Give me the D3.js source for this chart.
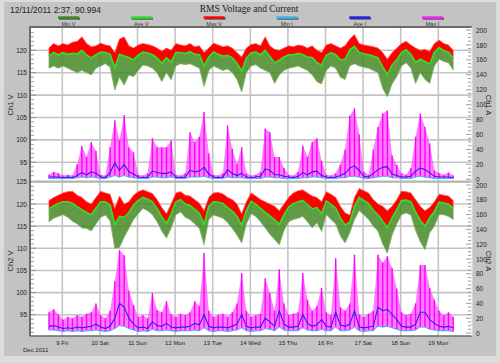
<!DOCTYPE html>
<html>
<head>
<meta charset="utf-8">
<script src="https://cdn.jsdelivr.net/npm/d3@7"></script>
<style>
  body { margin: 0; background: #d9d9d9; }
  svg text { font-family: "Liberation Sans", Arial, sans-serif; }
</style>
</head>
<body>
<svg id="chart" width="500" height="363"></svg>
<script>
// samples every 3 hours, from Dec 8 2011 15:30
const sampleStart = new Date(2011, 11, 8, 15, 30);
const sampleStepHours = 3;

// Ch1 voltage (V)
const ch1MaxV = [120.5,121.5,121.0,121.5,121.2,121.8,122.0,123.0,121.5,120.8,
  121.0,121.6,121.2,121.0,119.5,122.5,123.0,121.0,120.5,121.2,
  121.5,121.3,121.0,120.5,119.8,120.5,120.0,121.5,121.2,121.0,
  121.5,120.8,121.0,119.5,120.5,121.6,121.2,120.8,121.0,120.5,
  119.5,118.5,120.5,121.3,121.5,121.0,123.0,121.0,120.2,120.0,
  120.5,121.0,120.8,121.2,121.0,120.5,121.0,120.0,119.5,121.2,
  121.5,121.0,120.5,121.0,122.5,123.5,121.5,121.2,121.0,120.8,
  120.5,119.5,118.0,119.5,120.5,121.5,122.0,121.2,120.5,120.0,
  120.2,119.8,121.5,122.3,121.5,121.2,120.0];
const ch1AveV = [118.7,119.5,119.0,119.5,119.1,119.3,119.2,120.0,118.9,118.3,
  119.0,119.6,119.5,119.1,116.1,119.1,118.7,118.4,117.9,118.9,
  119.6,119.4,119.0,118.3,117.1,118.3,117.4,119.5,119.5,119.3,
  119.7,119.1,119.0,116.5,118.5,119.6,119.1,118.7,118.9,118.3,
  117.1,115.4,118.3,119.4,119.6,119.0,120.0,118.6,117.2,117.8,
  118.5,119.0,119.0,119.3,119.0,118.5,118.4,117.2,116.7,118.9,
  119.5,119.0,117.9,118.0,120.1,120.9,119.5,119.2,119.0,118.7,
  118.3,116.3,114.6,116.7,117.9,119.5,120.1,119.1,117.3,118.0,
  117.5,116.9,119.5,120.6,119.9,119.6,118.2];
const ch1MinV = [116.0,116.5,116.0,116.5,116.0,115.5,115.0,115.5,115.0,114.5,
  116.0,116.5,117.0,116.2,111.1,114.0,112.2,114.5,114.1,115.5,
  116.7,116.5,116.0,115.0,113.0,115.0,113.4,116.5,117.0,116.8,
  117.0,116.5,116.0,111.9,115.5,116.5,116.0,115.5,115.8,115.0,
  113.5,110.7,115.0,116.5,116.8,116.0,115.5,115.0,112.6,114.5,
  115.5,116.0,116.2,116.5,116.0,115.5,114.5,113.0,112.5,115.5,
  116.5,116.0,114.0,113.5,116.5,117.0,116.5,116.2,116.0,115.5,
  115.0,111.5,109.6,112.5,114.1,116.5,117.2,116.0,112.6,115.0,
  113.5,112.6,116.5,118.0,117.5,117.2,115.6];

// Ch1 current (A)
const ch1MaxI = [6,10,8,5,6,5,20,45,30,50,
  38,6,5,43,79,52,86,43,36,6,
  5,8,55,43,43,43,52,6,5,8,
  63,50,57,90,35,6,5,8,72,41,
  20,43,8,5,6,10,68,63,30,30,
  15,6,5,10,45,30,50,55,25,6,
  5,8,20,40,85,95,60,10,6,40,
  70,88,92,32,19,8,6,15,57,88,
  70,48,12,8,6,9,5];
const ch1AveI = [3,3,3,2,3,2,5,9,6,10,
  8,3,2,9,22,12,20,10,7,3,
  2,3,11,9,8,8,10,3,2,3,
  12,10,11,16,7,3,2,3,13,8,
  5,8,3,2,3,4,14,12,6,6,
  4,3,2,4,9,6,10,11,5,3,
  2,3,5,8,15,18,12,4,3,8,
  13,16,17,7,5,3,3,4,11,15,
  13,9,4,3,3,3,2];
const ch1MinI = [1,1,1,1,1,1,2,3,2,3,
  2,1,1,3,5,3,5,3,2,1,
  1,1,3,3,2,2,3,1,1,1,
  3,3,3,4,2,1,1,1,3,2,
  2,2,1,1,1,1,3,3,2,2,
  1,1,1,1,2,2,3,3,2,1,
  1,1,2,2,4,4,3,1,1,2,
  3,4,4,2,2,1,1,1,3,4,
  3,2,1,1,1,1,1];

// Ch2 voltage (V)
const ch2MaxV = [120.8,121.5,122.0,122.5,122.8,122.9,122.0,121.5,120.5,120.0,
  121.5,122.9,122.5,122.2,119.0,121.8,120.0,120.5,122.0,122.8,
  123.2,122.8,122.4,121.0,119.2,117.8,120.0,122.5,122.8,122.0,
  121.8,121.0,120.2,118.5,121.5,122.5,122.6,122.3,121.5,121.0,
  120.0,117.8,120.5,122.5,121.8,121.0,120.5,120.0,119.5,118.5,
  120.0,121.5,122.5,123.0,123.2,122.5,121.8,121.5,120.5,122.8,
  122.2,121.5,119.5,118.0,117.5,121.5,123.5,123.0,122.5,121.0,
  120.0,119.5,118.5,119.5,121.0,122.9,122.8,122.5,121.0,119.5,
  118.5,119.2,120.5,122.2,122.0,121.8,120.8];
const ch2AveV = [118.9,119.6,120.1,120.5,120.5,120.2,119.4,118.7,118.1,117.6,
  119.1,120.5,120.5,119.8,115.4,117.2,117.0,118.1,119.8,120.8,
  121.5,121.1,120.5,119.0,117.1,115.6,117.8,120.5,121.0,120.0,
  119.7,118.8,117.9,115.4,119.5,120.5,120.4,120.1,119.2,118.4,
  117.2,115.2,118.5,120.6,120.0,119.0,118.1,117.3,116.5,115.4,
  117.6,119.3,120.1,120.5,120.8,119.9,118.9,119.2,117.8,120.7,
  119.9,119.1,116.8,115.3,115.9,119.5,121.5,120.8,120.1,118.6,
  117.6,116.1,114.7,116.9,118.8,120.8,120.9,120.5,118.2,116.3,
  115.0,116.9,118.3,120.4,120.2,120.0,119.1];
const ch2MinV = [116.0,116.8,117.2,117.6,117.0,116.1,115.5,114.6,114.5,113.9,
  115.5,117.0,117.5,116.2,110.0,110.2,112.5,114.5,116.5,117.8,
  119.0,118.5,117.6,116.0,113.9,112.3,114.6,117.6,118.2,117.0,
  116.5,115.5,114.5,110.8,116.5,117.5,117.2,116.8,115.8,114.5,
  113.0,111.2,115.5,117.8,117.2,116.0,114.6,113.2,112.0,110.8,
  114.0,116.0,116.5,116.8,117.2,116.0,114.6,115.8,113.8,117.6,
  116.5,115.5,112.8,111.2,113.5,116.5,118.5,117.6,116.5,115.0,
  113.9,111.0,108.9,113.0,115.5,117.6,118.0,117.5,114.0,111.5,
  109.7,113.5,115.0,117.6,117.6,117.2,116.5];

// Ch2 current (A)
const ch2MaxI = [28,32,25,18,22,20,24,22,26,28,
  40,24,20,30,70,112,105,57,38,22,
  24,20,54,31,28,43,25,22,26,24,
  28,43,36,108,30,22,24,26,22,28,
  40,81,30,22,24,26,74,54,30,86,
  40,24,26,28,81,45,30,36,61,28,
  24,101,35,30,40,106,25,22,26,30,
  106,95,104,88,60,28,24,26,40,92,
  92,61,45,30,24,28,22];
const ch2AveI = [9,10,8,6,7,6,8,7,8,9,
  12,8,6,9,20,40,35,20,12,7,
  8,6,15,10,9,13,8,7,8,8,
  9,13,11,25,9,7,8,8,7,9,
  12,25,9,7,8,8,20,15,9,30,
  12,8,8,9,25,13,9,11,18,9,
  8,28,11,9,12,30,8,7,8,9,
  35,30,32,25,18,9,8,8,12,28,
  28,18,13,9,8,9,7];
const ch2MinI = [4,4,3,2,3,2,3,2,3,3,
  4,3,2,3,6,10,9,6,4,2,
  3,2,5,3,3,4,3,2,3,3,
  3,4,3,7,3,2,3,3,2,3,
  4,7,3,2,3,3,6,5,3,8,
  4,3,3,3,7,4,3,3,5,3,
  3,8,3,3,4,8,3,2,3,3,
  9,8,9,7,5,3,3,3,4,8,
  8,5,4,3,3,3,2];

const legendNames = ["Min V", "Ave V", "Max V", "Min I", "Ave I", "Max I"];
const legendColors = ["#3f8a22", "#22e822", "#ff0000", "#3cb4ee", "#2222ee", "#ff22ff"];
const voltTicks1 = [95, 100, 105, 110, 115, 120];
const voltTicks2 = [95, 100, 105, 110, 115, 120, 125];
const ampTicks = [0, 20, 40, 60, 80, 100, 120, 140, 160, 180, 200];

const svg = d3.select("#chart");
const plot = { left: 30, right: 472, top: 27, bottom: 336 };

const x = d3.scaleTime()
  .domain([new Date(2011, 11, 9), new Date(2011, 11, 19)])
  .range([62.3, 438.3]);

const times = ch1MaxV.map((v, i) => d3.timeHour.offset(sampleStart, i * sampleStepHours));
const days = d3.timeDay.range(new Date(2011, 11, 9), new Date(2011, 11, 20));

const panels = [
  {
    name: "Ch1", maxV: ch1MaxV, aveV: ch1AveV, minV: ch1MinV,
    maxI: ch1MaxI, aveI: ch1AveI, minI: ch1MinI,
    vDomain: [91.2, 125], vRange: [179.3, 27.9], aRange: [179.3, 30],
    vTicks: voltTicks1, titleY: 105
  },
  {
    name: "Ch2", maxV: ch2MaxV, aveV: ch2AveV, minV: ch2MinV,
    maxI: ch2MaxI, aveI: ch2AveI, minI: ch2MinI,
    vDomain: [90.87, 125], vRange: [333, 181.9], aRange: [333, 185],
    vTicks: voltTicks2, titleY: 261
  }
];

// background frame
svg.append("rect").attr("width", 500).attr("height", 363).attr("fill", "#dcdcdc");
svg.append("rect").attr("x", 4).attr("y", 2).attr("width", 492).attr("height", 354)
  .attr("fill", "#c3c3c3");
svg.append("rect")
  .attr("x", plot.left).attr("y", plot.top)
  .attr("width", plot.right - plot.left).attr("height", plot.bottom - plot.top)
  .attr("fill", "#ffffff");

// header
svg.append("text").attr("x", 10).attr("y", 13)
  .attr("font-size", 8.5).attr("fill", "#222")
  .text("12/11/2011 2:37, 90.994");
svg.append("text").attr("x", 249).attr("y", 11.5)
  .attr("text-anchor", "middle")
  .style("font-family", "'Liberation Serif', 'Times New Roman', serif")
  .attr("font-size", 9.5).attr("fill", "#222")
  .text("RMS Voltage and Current");

const legend = svg.append("g").selectAll("g")
  .data(legendNames)
  .enter()
  .append("g")
  .attr("transform", (d, i) => `translate(${58 + i * 72.8},0)`);
legend.append("rect").attr("x", 1).attr("y", 17.5).attr("width", 21).attr("height", 2.2)
  .attr("fill", "#555");
legend.append("rect").attr("x", 0).attr("y", 16.3).attr("width", 21).attr("height", 2.4)
  .attr("fill", (d, i) => legendColors[i]);
legend.append("text").attr("x", 10.5).attr("y", 25.5)
  .attr("text-anchor", "middle").attr("font-size", 5.5).attr("fill", "#333")
  .text((d) => d);

// vertical day gridlines across both panels
svg.append("g").selectAll("line")
  .data(days)
  .enter()
  .append("line")
  .attr("x1", (d) => x(d)).attr("x2", (d) => x(d))
  .attr("y1", plot.top).attr("y2", plot.bottom)
  .attr("stroke", "#c4c4c4").attr("stroke-width", 1.6);

panels.forEach((p) => {
  const yV = d3.scaleLinear().domain(p.vDomain).range(p.vRange);
  const yA = d3.scaleLinear().domain([0, 200]).range(p.aRange);
  const rows = times.map((t, i) => ({
    t, maxV: p.maxV[i], aveV: p.aveV[i], minV: p.minV[i],
    maxI: p.maxI[i], aveI: p.aveI[i], minI: p.minI[i]
  }));
  const g = svg.append("g").attr("class", p.name);

  // horizontal gridlines
  g.selectAll(".hgrid")
    .data(p.vTicks)
    .enter()
    .append("line")
    .attr("x1", plot.left).attr("x2", plot.right)
    .attr("y1", (d) => yV(d)).attr("y2", (d) => yV(d))
    .attr("stroke", "#c4c4c4").attr("stroke-width", 1.6);

  // voltage: min band, max band, ave line on top
  g.append("path").datum(rows)
    .attr("d", d3.area().x((d) => x(d.t)).y0((d) => yV(d.aveV)).y1((d) => yV(d.minV)))
    .attr("fill", "#458a27").attr("fill-opacity", 0.85)
    .attr("stroke", "#86b46a").attr("stroke-width", 0.8);
  g.append("path").datum(rows)
    .attr("d", d3.area().x((d) => x(d.t)).y0((d) => yV(d.aveV)).y1((d) => yV(d.maxV)))
    .attr("fill", "#ff0000").attr("stroke", "#ff5a5a").attr("stroke-width", 0.8);
  g.append("path").datum(rows)
    .attr("d", d3.line().x((d) => x(d.t)).y((d) => yV(d.aveV)))
    .attr("fill", "none").attr("stroke", "#22e822").attr("stroke-width", 1.6);

  // current: band plus needles for max, lines for ave and min
  g.append("path").datum(rows)
    .attr("d", d3.area().x((d) => x(d.t)).y0((d) => yA(d.minI)).y1((d) => yA(d.maxI)))
    .attr("fill", "#ff44ff").attr("fill-opacity", 0.7);
  g.selectAll(".maxi")
    .data(rows)
    .enter()
    .append("line")
    .attr("x1", (d) => x(d.t)).attr("x2", (d) => x(d.t))
    .attr("y1", (d) => yA(d.minI)).attr("y2", (d) => yA(d.maxI))
    .attr("stroke", "#ff00ff").attr("stroke-width", 1.4);
  g.append("path").datum(rows)
    .attr("d", d3.line().x((d) => x(d.t)).y((d) => yA(d.aveI)))
    .attr("fill", "none").attr("stroke", "#2222ee").attr("stroke-width", 1.1);
  g.append("path").datum(rows)
    .attr("d", d3.line().x((d) => x(d.t)).y((d) => yA(d.minI)))
    .attr("fill", "none").attr("stroke", "#3cb4ee").attr("stroke-width", 1);

  // left axis labels and inner ticks
  const left = g.append("g")
    .attr("transform", `translate(${plot.left},0)`)
    .call(d3.axisLeft(yV).tickValues(p.vTicks).tickSize(0).tickPadding(3).tickFormat(d3.format("d")));
  left.select(".domain").remove();
  left.selectAll("text").attr("font-size", 6.5).attr("fill", "#222")
    .style("font-family", "'Liberation Sans', Arial, sans-serif");

  g.selectAll(".vtick")
    .data(d3.range(Math.ceil(p.vDomain[0]), p.vDomain[1]))
    .enter()
    .append("line")
    .attr("x1", plot.left + 1).attr("x2", (d) => plot.left + (d % 5 === 0 ? 6 : 4))
    .attr("y1", (d) => yV(d)).attr("y2", (d) => yV(d))
    .attr("stroke", "#888").attr("stroke-width", 0.8);

  // right axis labels and inner ticks
  const right = g.append("g")
    .attr("transform", `translate(${plot.right},0)`)
    .call(d3.axisRight(yA).tickValues(ampTicks).tickSize(0).tickPadding(4));
  right.select(".domain").remove();
  right.selectAll("text").attr("font-size", 6.5).attr("fill", "#222")
    .style("font-family", "'Liberation Sans', Arial, sans-serif");

  g.selectAll(".atick")
    .data(d3.range(0, 201, 5))
    .enter()
    .append("line")
    .attr("x1", plot.right - 1).attr("x2", (d) => plot.right - (d % 20 === 0 ? 6 : 4))
    .attr("y1", (d) => yA(d)).attr("y2", (d) => yA(d))
    .attr("stroke", "#888").attr("stroke-width", 0.8);

  // axis titles
  g.append("text")
    .attr("transform", `translate(13,${p.titleY}) rotate(-90)`)
    .attr("text-anchor", "middle").attr("font-size", 7.5).attr("fill", "#222")
    .text(`${p.name} V`);
  g.append("text")
    .attr("transform", `translate(486,${p.titleY}) rotate(90)`)
    .attr("text-anchor", "middle").attr("font-size", 7.5).attr("fill", "#222")
    .text(`${p.name} A`);
});

// panel divider and plot border
svg.append("line").attr("x1", plot.left).attr("x2", plot.right)
  .attr("y1", 181.5).attr("y2", 181.5)
  .attr("stroke", "#b4b4b4").attr("stroke-width", 1.8);
svg.append("path")
  .attr("d", `M${plot.left},${plot.bottom}V${plot.top}H${plot.right}`)
  .attr("fill", "none").attr("stroke", "#6a6a6a").attr("stroke-width", 2);
svg.append("line").attr("x1", plot.left).attr("x2", plot.right)
  .attr("y1", plot.bottom).attr("y2", plot.bottom)
  .attr("stroke", "#6a6a6a").attr("stroke-width", 1.5);
svg.append("line").attr("x1", plot.right).attr("x2", plot.right)
  .attr("y1", plot.top).attr("y2", plot.bottom)
  .attr("stroke", "#e6e6e6").attr("stroke-width", 1.2);

// day labels
svg.append("g").selectAll("text")
  .data(days)
  .enter()
  .append("text")
  .attr("x", (d) => x(d)).attr("y", 345)
  .attr("text-anchor", "middle").attr("font-size", 6).attr("fill", "#222")
  .text((d) => d3.timeFormat("%-d %a")(d));
svg.append("text").attr("x", 23).attr("y", 351.5)
  .attr("font-size", 6).attr("fill", "#222")
  .text("Dec 2011");
</script>
</body>
</html>
